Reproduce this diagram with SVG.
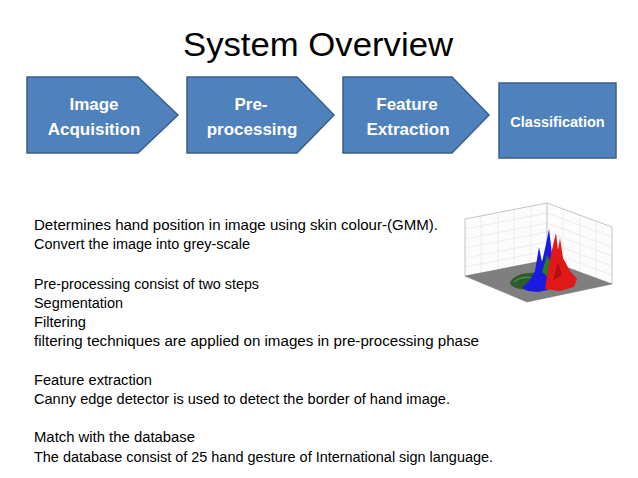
<svg xmlns="http://www.w3.org/2000/svg" width="638" height="478" viewBox="0 0 638 478">
<style>
.shape{fill:#4F81BD;stroke:#3A5F8B;stroke-width:1.5}
.lbl{font-family:"Liberation Sans",Arial,sans-serif;font-weight:bold;font-size:17px;fill:#fff;text-anchor:middle}
.body{font-family:"Liberation Sans",Arial,sans-serif;font-size:15.5px;fill:#000}
.title{font-family:"Liberation Sans",Arial,sans-serif;font-size:33px;fill:#000}
.grid{stroke:#e2e2e2;stroke-width:0.6;fill:none}
.ax{stroke:#aaa;stroke-width:0.7;fill:none}
</style>
<rect width="638" height="478" fill="#fff"/>
<text class="title" x="183" y="56" textLength="270" lengthAdjust="spacingAndGlyphs">System Overview</text>

<g id="node-acquisition">
<polygon class="shape" points="27,77 138,77 178,115 138,153 27,153"/>
<text class="lbl" x="94" y="110">Image</text>
<text class="lbl" x="94" y="135">Acquisition</text>
</g>
<g id="node-preprocessing">
<polygon class="shape" points="187,77 297,77 334,115 297,153 187,153"/>
<text class="lbl" x="251" y="110">Pre-</text>
<text class="lbl" x="252" y="135">processing</text>
</g>
<g id="node-feature">
<polygon class="shape" points="343,77 452,77 489,115 452,153 343,153"/>
<text class="lbl" x="407" y="110">Feature</text>
<text class="lbl" x="408" y="135">Extraction</text>
</g>
<g id="node-classification">
<rect class="shape" x="499" y="83" width="117" height="75"/>
<text class="lbl" x="557.5" y="127" style="font-size:14.5px">Classification</text>
</g>
<g id="connectors"></g>

<g id="body-text">
<text class="body" x="34" y="230" textLength="404" lengthAdjust="spacingAndGlyphs">Determines hand position in image using skin colour-(GMM).</text>
<text class="body" x="34" y="249" textLength="216" lengthAdjust="spacingAndGlyphs">Convert the image into grey-scale</text>
<text class="body" x="34" y="289" textLength="225" lengthAdjust="spacingAndGlyphs">Pre-processing consist of two steps</text>
<text class="body" x="34" y="308" textLength="89" lengthAdjust="spacingAndGlyphs">Segmentation</text>
<text class="body" x="34" y="327" textLength="52" lengthAdjust="spacingAndGlyphs">Filtering</text>
<text class="body" x="34" y="346" textLength="445" lengthAdjust="spacingAndGlyphs">filtering techniques are applied on images in pre-processing phase</text>
<text class="body" x="34" y="385" textLength="118" lengthAdjust="spacingAndGlyphs">Feature extraction</text>
<text class="body" x="34" y="404" textLength="416" lengthAdjust="spacingAndGlyphs">Canny edge detector is used to detect the border of hand image.</text>
<text class="body" x="34" y="442" textLength="161" lengthAdjust="spacingAndGlyphs">Match with the database</text>
<text class="body" x="34" y="462" textLength="459" lengthAdjust="spacingAndGlyphs">The database consist of 25 hand gesture of International sign language.</text>
</g>

<g id="chart">
<polygon points="465,219 547,203 547,260 465,276" fill="#fcfcfc"/>
<polygon points="547,203 612,227 612,284 547,260" fill="#fcfcfc"/>
<g class="grid">
<line x1="465" y1="229" x2="547" y2="213"/><line x1="465" y1="239" x2="547" y2="223"/>
<line x1="465" y1="248" x2="547" y2="232"/><line x1="465" y1="258" x2="547" y2="242"/>
<line x1="465" y1="267" x2="547" y2="251"/>
<line x1="547" y1="213" x2="612" y2="237"/><line x1="547" y1="223" x2="612" y2="247"/>
<line x1="547" y1="232" x2="612" y2="256"/><line x1="547" y1="242" x2="612" y2="266"/>
<line x1="547" y1="251" x2="612" y2="275"/>
<line x1="481" y1="216" x2="481" y2="273"/><line x1="498" y1="213" x2="498" y2="270"/>
<line x1="514" y1="209" x2="514" y2="266"/><line x1="531" y1="206" x2="531" y2="263"/>
<line x1="563" y1="209" x2="563" y2="266"/><line x1="580" y1="215" x2="580" y2="272"/>
<line x1="596" y1="221" x2="596" y2="278"/>
</g>
<g class="ax">
<line x1="465" y1="219" x2="465" y2="276"/>
<line x1="547" y1="203" x2="547" y2="260"/>
<line x1="612" y1="227" x2="612" y2="284"/>
<line x1="465" y1="219" x2="547" y2="203"/>
<line x1="547" y1="203" x2="612" y2="227"/>
</g>
<polygon points="465,276 547,260 612,284 527,302" fill="#7f7f7f" stroke="#6a6a6a" stroke-width="0.5"/>
<path d="M510,283 C512,276 524,272 536,273 C546,274 548,282 540,287 C530,291 512,290 510,283 Z" fill="#2f5a2a"/>
<path d="M514,282 C518,278 526,276 532,278" stroke="#4f8a46" stroke-width="1.5" fill="none"/>
<polygon points="522,288 529,281 535,271 539,247 542,262 546,244 549,229 552,254 551,278 548,290 538,292 528,291" fill="#1a1ae0"/>
<polygon points="542,272 547,255 552,265 550,279" fill="#2a7a2a"/>
<polygon points="545,289 548,270 553,245 556,233 558,250 560,238 563,258 570,271 577,279 574,287 560,291" fill="#e01818"/>
<polygon points="553,280 558,262 562,275" fill="#b01010"/>
</g>
</svg>
